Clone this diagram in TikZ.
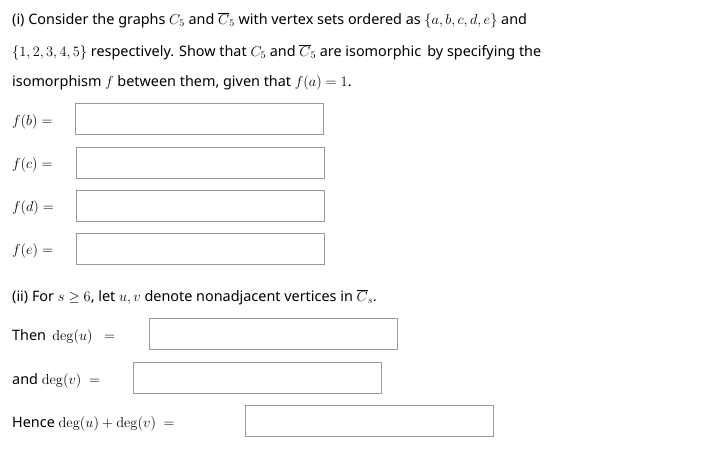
\documentclass[tikz,border=0pt]{standalone}
\usepackage[no-math]{fontspec}
\setmainfont{Noto Sans}
\begin{document}
\begin{tikzpicture}[x=1pt,y=-1pt,
  txt/.style={anchor=base west,inner sep=0pt,font=\Large},
  ansbox/.style={draw=gray!80,line width=0.8pt,minimum width=248pt,minimum height=31pt,anchor=north west,inner sep=0pt}]
\useasboundingbox (0,0) rectangle (712,451);
\node[txt] (l1) at (12,24) {(i) Consider the graphs $C_5$ and $\overline{C}_5$ with vertex sets ordered as $\{a,b,c,d,e\}$ and};
\node[txt] (l2) at (12,56) {$\{1,2,3,4,5\}$ respectively. Show that $C_5$ and $\overline{C}_5$ are isomorphic\, by specifying the};
\node[txt] (l3) at (12,86) {isomorphism $f$ between them, given that $f(a)=1$.};
\node[txt] (fb) at (12,125) {$f(b)=$};
\node[ansbox] (bb) at (75,103) {};
\node[txt] (fc) at (12,168) {$f(c)=$};
\node[ansbox] (bc) at (76,147) {};
\node[txt] (fd) at (12,211) {$f(d)=$};
\node[ansbox] (bd) at (76,190) {};
\node[txt] (fe) at (12,254) {$f(e)=$};
\node[ansbox] (be) at (76,233) {};
\node[txt] (l4) at (12,301) {(ii) For $s\geq 6$, let $u,v$ denote nonadjacent vertices in $\overline{C}_s$.};
\node[txt] (l5) at (12,340) {Then\, $\deg(u)\ \ =$};
\node[ansbox] (bu) at (149,318) {};
\node[txt] (l6) at (12,384) {and $\deg(v)\ =$};
\node[ansbox] (bv) at (133,362) {};
\node[txt] (l7) at (12,427) {Hence $\deg(u)+\deg(v)\ =$};
\node[ansbox] (bs) at (245,405) {};
\end{tikzpicture}
\end{document}
